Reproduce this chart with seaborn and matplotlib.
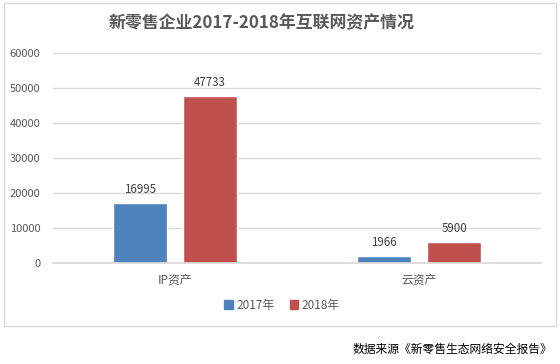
import matplotlib
matplotlib.use("Agg")
import matplotlib.pyplot as plt
import seaborn as sns
import pandas as pd
from matplotlib.patches import Rectangle

categories = ["IP资产", "云资产"]
series_names = ["2017年", "2018年"]
values_2017 = [16995, 1966]
values_2018 = [47733, 5900]
y_ticks = [0, 10000, 20000, 30000, 40000, 50000, 60000]
title = "新零售企业2017-2018年互联网资产情况"
source = "数据来源《新零售生态网络安全报告》"

df = pd.DataFrame({
    "cat": categories * 2,
    "year": [series_names[0]] * 2 + [series_names[1]] * 2,
    "val": values_2017 + values_2018,
})

sns.set_theme(style="white")
plt.rcParams["font.family"] = ["Noto Sans CJK SC", "DejaVu Sans"]

fig = plt.figure(figsize=(5.6, 3.64), dpi=100)
ax = fig.add_axes([53/560, 1-262.7/364, 488/560, (262.7-53.3)/364])

palette = {"2017年": "#4F81BD", "2018年": "#C0504D"}
sns.barplot(data=df, x="cat", y="val", hue="year", palette=palette, ax=ax,
            width=0.574, gap=0.215, saturation=1, legend=False)

ax.set_xlim(-0.5, 1.5)
ax.set_ylim(0, 60000)
ax.set_yticks(y_ticks)
ax.set_yticklabels([str(t) for t in y_ticks], fontsize=8, color="#595959")
ax.tick_params(axis="x", labelsize=8.5, colors="#595959", length=0, pad=8)
ax.tick_params(axis="y", length=0, pad=9)
ax.set_xlabel("")
ax.set_ylabel("")
ax.yaxis.grid(True, color="#D9D9D9", linewidth=1)
ax.set_axisbelow(True)
for s in ["top", "right", "left"]:
    ax.spines[s].set_visible(False)
ax.spines["bottom"].set_color("#D9D9D9")

for cont in ax.containers:
    ax.bar_label(cont, labels=[str(int(v)) for v in cont.datavalues],
                 fontsize=8.3, color="#404040", padding=5)

# legend
handles = [Rectangle((0, 0), 1, 1, color=palette[n]) for n in series_names]
fig.legend(handles, series_names, loc="center", bbox_to_anchor=(282/560, 1-305/364),
           ncol=2, frameon=False, fontsize=8.5, handlelength=0.7, handleheight=0.7,
           handletextpad=0.3, columnspacing=1.3, labelcolor="#595959")

fig.text(262/560, 1-23/364, title, ha="center", va="center", fontsize=12.2,
         fontweight="bold", color="#595959")

fig.text(552/560, 1-349/364, source, ha="right", va="center", fontsize=8.5, color="#000000")

fig.patches.append(Rectangle((3.5/560, 1-326/364), 552.5/560, 323/364,
                             transform=fig.transFigure, fill=False,
                             edgecolor="#D9D9D9", linewidth=1))

fig.savefig("out.png", dpi=100)
